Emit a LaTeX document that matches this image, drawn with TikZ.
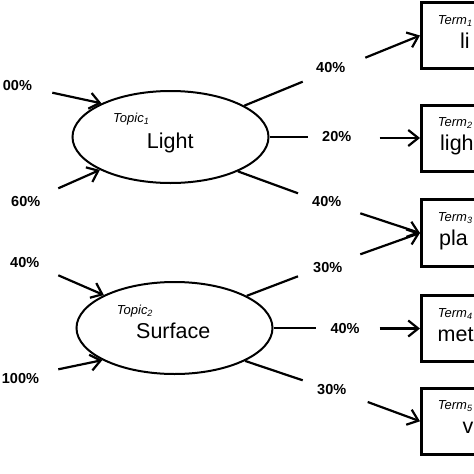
\documentclass[tikz,border=0pt]{standalone}
\usepackage{fontspec}
\setmainfont{Liberation Sans}
\usetikzlibrary{shapes.geometric,arrows.meta}
\begin{document}
\begin{tikzpicture}[x=1pt,y=-1pt,
  topic/.style={draw, ellipse, line width=2pt, minimum width=196pt, minimum height=92pt, inner sep=0pt},
  termbox/.style={draw, rectangle, line width=3pt, minimum width=140pt, inner sep=0pt},
  pct/.style={anchor=base west, inner sep=0pt, font=\fontsize{14.5}{16}\selectfont\bfseries},
  tlabel/.style={anchor=base west, inner sep=0pt, font=\fontsize{13}{15}\selectfont\itshape},
  bigword/.style={anchor=base west, inner sep=0pt, font=\fontsize{21.5}{24}\selectfont},
  conn/.style={line width=2.2pt},
  arr/.style={conn, -{Straight Barb[length=10pt,width=16pt]}}]
\useasboundingbox (0,0) rectangle (474,474);
\fill[white] (0,0) rectangle (474,474);
\clip (0,0) rectangle (474,474);

% topics
\node[topic] (t1) at (170.5,137) {};
\node[tlabel] (t1a) at (113,122.7) {Topic\textsubscript{1}};
\node[bigword] (t1b) at (146.7,148) {Light};
\node[topic] (t2) at (174.5,328) {};
\node[tlabel] (t2a) at (116.7,314.3) {Topic\textsubscript{2}};
\node[bigword] (t2b) at (136,338.7) {Surface};

% term boxes
\node[termbox, minimum height=66pt] (b1) at (491.5,35.5) {};
\node[termbox, minimum height=66pt] (b2) at (491.5,138) {};
\node[termbox, minimum height=67pt] (b3) at (491.5,233) {};
\node[termbox, minimum height=66pt] (b4) at (491.5,328.5) {};
\node[termbox, minimum height=66.5pt] (b5) at (491.5,421.25) {};
\node[tlabel] (b1a) at (437.7,24) {Term\textsubscript{1}};
\node[bigword] (b1b) at (460,48) {li};
\node[tlabel] (b2a) at (437.7,126.5) {Term\textsubscript{2}};
\node[bigword] (b2b) at (440,150.5) {ligh};
\node[tlabel] (b3a) at (437.7,221) {Term\textsubscript{3}};
\node[bigword] (b3b) at (439,245) {pla};
\node[tlabel] (b4a) at (437.7,317) {Term\textsubscript{4}};
\node[bigword] (b4b) at (437.5,341) {met};
\node[tlabel] (b5a) at (437.7,409.5) {Term\textsubscript{5}};
\node[bigword] (b5b) at (462.5,433.5) {v};

% incoming labels
\node[pct] (l1) at (2.7,90.7) {00\%};
\node[pct] (l2) at (11,206) {60\%};
\node[pct] (l3) at (10,267) {40\%};
\node[pct] (l4) at (1.7,383.7) {100\%};

% outgoing labels
\node[pct] (o1) at (316,72.3) {40\%};
\node[pct] (o2) at (322,141.7) {20\%};
\node[pct] (o3) at (312,206) {40\%};
\node[pct] (o4) at (313,272) {30\%};
\node[pct] (o5) at (330.3,333.7) {40\%};
\node[pct] (o6) at (317,394.3) {30\%};

% free ends
\coordinate (ia) at (52.3,92.7);
\coordinate (ib) at (58.3,188.3);
\coordinate (ic) at (58.3,275.3);
\coordinate (id) at (58.3,369.3);
\coordinate (e1a) at (302.7,81.7);
\coordinate (e1b) at (365.3,57.7);
\coordinate (e2a) at (307.7,137);
\coordinate (e2b) at (379.7,138);
\coordinate (e3a) at (298,193.3);
\coordinate (e3b) at (360.3,213.3);
\coordinate (f1a) at (298,276.3);
\coordinate (f1b) at (360.3,254.3);
\coordinate (f2a) at (316,328);
\coordinate (f2b) at (379.7,328.5);
\coordinate (f3a) at (302.7,380.3);
\coordinate (f3b) at (367.7,402);

% incoming arrows
\draw[arr] (ia) -- (t1.154);
\draw[arr] (ib) -- (t1.205);
\draw[arr] (ic) -- (t2.155);
\draw[arr] (id) -- (t2.204);

% outgoing
\draw[conn] (t1.23) -- (e1a);
\draw[arr] (e1b) -- (b1.west);
\draw[conn] (t1.east) -- (e2a);
\draw[arr] (e2b) -- (b2.west);
\draw[conn] (t1.333) -- (e3a);
\draw[arr] (e3b) -- (b3.west);
\draw[conn] (t2.24) -- (f1a);
\draw[arr] (f1b) -- (b3.west);
\draw[conn] (t2.east) -- (f2a);
\draw[arr] (f2b) -- (b4.west);
\draw[conn] (t2.335) -- (f3a);
\draw[arr] (f3b) -- (b5.west);
\end{tikzpicture}
\end{document}
